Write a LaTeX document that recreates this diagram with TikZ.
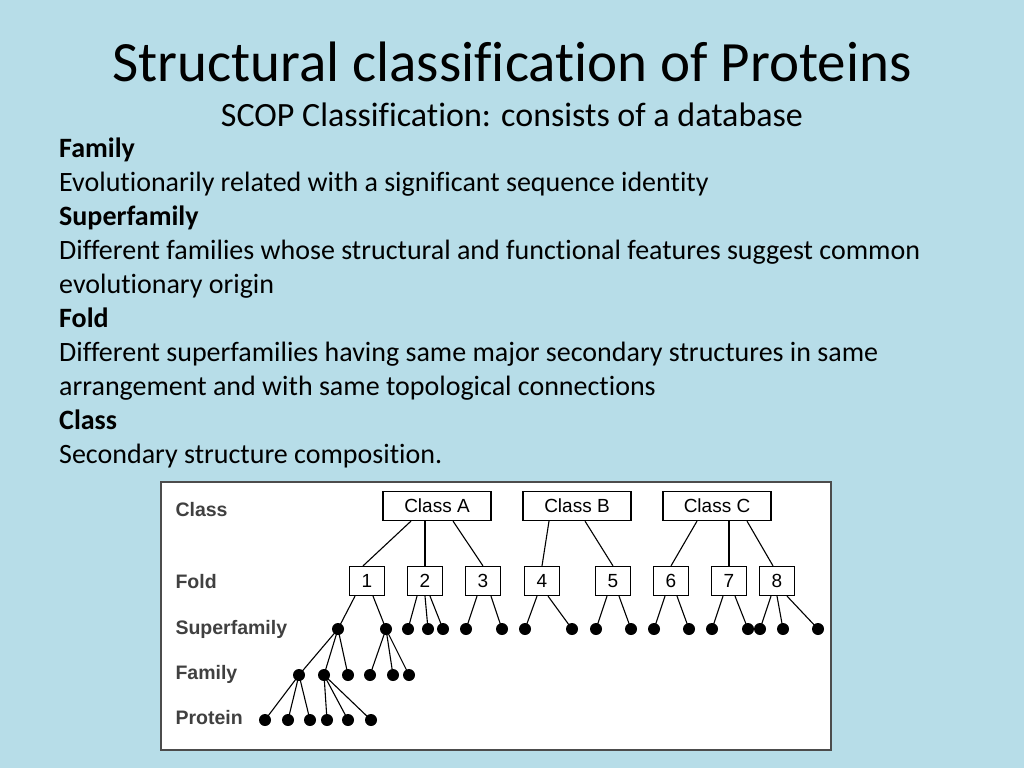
\documentclass[tikz,border=0pt]{standalone}
\usepackage{fontspec}
\setmainfont{Carlito}[Ligatures={NoCommon}]
\newfontfamily\arialf{Liberation Sans}
\usetikzlibrary{calc}
\definecolor{bg}{HTML}{B7DDE8}
\tikzset{
 box/.style={draw,line width=1.2pt,fill=white,inner sep=0pt,minimum height=29pt,font=\arialf\fontsize{19}{19}\selectfont},
 dot/.style={circle,fill=black,inner sep=0pt,minimum size=12pt},
 lvl/.style={anchor=west,font=\arialf\bfseries\fontsize{19.5}{19.5}\selectfont,text=black!75},
 ln/.style={line width=1.1pt},
 body/.style={anchor=north west,font=\fontsize{28}{34}\selectfont,align=left,inner sep=0pt}
}
\begin{document}
\begin{tikzpicture}[x=1pt,y=-1pt]
\fill[bg] (0,0) rectangle (1024,768);
\useasboundingbox (0,0) rectangle (1024,768);
\node[font=\fontsize{57}{57}\selectfont] (title) at (512,62) {Structural classification of Proteins};
\node[font=\fontsize{34}{34}\selectfont] (sub) at (512,115) {SCOP Classification: consists of a database};
\node[body] (txt) at (59,138) {\textbf{Family}\\
Evolutionarily related with a significant sequence identity\\
\textbf{Superfamily}\\
Different families whose structural and functional features suggest common\\
evolutionary origin\\
\textbf{Fold}\\
Different superfamilies having same major secondary structures in same\\
arrangement and with same topological connections\\
\textbf{Class}\\
Secondary structure composition.};
\node[draw=black!70,line width=1.5pt,fill=white,minimum width=670pt,minimum height=268pt,anchor=north west] (panel) at (160,481) {};
\node[lvl] (lc) at (172,510) {Class};
\node[lvl] (lf) at (172,582) {Fold};
\node[lvl] (ls) at (172,629) {Superfamily};
\node[lvl] (lfa) at (172,674) {Family};
\node[lvl] (lp) at (172,718) {Protein};
\node[box,minimum width=108pt] (A) at (437,506) {Class A};
\node[box,minimum width=108pt] (B) at (577,506) {Class B};
\node[box,minimum width=108pt] (C) at (717,506) {Class C};
\foreach \n/\x in {1/367,2/425,3/483,4/542,5/613,6/671,7/729,8/777}
  \node[box,minimum width=35pt] (f\n) at (\x,581) {\n};
\foreach \i/\x in {1/338,2/386,3/408,4/428,5/443,6/466,7/502,8/525,9/572,10/596,11/631,12/654,13/689,14/712,15/748,16/760,17/783,18/818}
  \node[dot] (s\i) at (\x,629) {};
\foreach \i/\x in {1/299,2/324,3/348,4/370,5/393,6/409}
  \node[dot] (m\i) at (\x,675) {};
\foreach \i/\x in {1/265,2/288,3/310,4/327,5/348,6/371}
  \node[dot] (p\i) at (\x,720) {};
% class -> fold
\draw[ln] ($(A.south)+(-26,0)$) -- ($(f1.north)+(-4,0)$);
\draw[ln] ($(A.south)+(-12,0)$) -- (f2.north);
\draw[ln] ($(A.south)+(16,0)$) -- (f3.north);
\draw[ln] ($(B.south)+(-28,0)$) -- (f4.north);
\draw[ln] ($(B.south)+(8,0)$) -- (f5.north);
\draw[ln] ($(C.south)+(-20,0)$) -- (f6.north);
\draw[ln] ($(C.south)+(12,0)$) -- (f7.north);
\draw[ln] ($(C.south)+(30,0)$) -- ($(f8.north)+(-4,0)$);
% fold -> superfamily
\foreach \f/\a/\b in {1/-12/s1,1/6/s2,2/-8/s3,2/0/s4,2/5/s5,3/-6/s6,3/8/s7,4/-5/s8,4/6/s9,5/-6/s10,5/6/s11,6/-6/s12,6/6/s13,7/-6/s14,7/6/s15,8/-6/s16,8/0/s17,8/10/s18}
  \draw[ln] ($(f\f.south)+(\a,0)$) -- (\b.center);
% superfamily -> family -> protein
\foreach \a/\b in {s1/m1,s1/m2,s1/m3,s2/m4,s2/m5,s2/m6,m1/p1,m1/p2,m1/p3,m2/p4,m2/p5,m2/p6}
  \draw[ln] (\a.center) -- (\b.center);
\end{tikzpicture}
\end{document}
